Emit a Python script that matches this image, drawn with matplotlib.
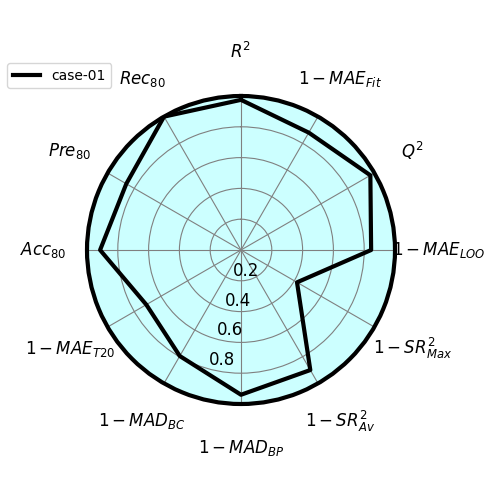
import numpy as np
import matplotlib
matplotlib.use("Agg")
import matplotlib.pyplot as plt

labels = [r"$R^2$", r"$1-MAE_{Fit}$", r"$Q^2$", r"$1-MAE_{LOO}$",
          r"$1-SR^2_{Max}$", r"$1-SR^2_{Av}$", r"$1-MAD_{BP}$",
          r"$1-MAD_{BC}$", r"$1-MAE_{T20}$", r"$Acc_{80}$",
          r"$Pre_{80}$", r"$Rec_{80}$"]
values = [0.975, 0.88, 0.97, 0.845, 0.42, 0.90, 0.94, 0.795, 0.71, 0.915, 0.86, 1.0]
series_name = "case-01"
rticks = [0.2, 0.4, 0.6, 0.8]

n = len(labels)
angles = np.linspace(0, 2 * np.pi, n, endpoint=False)
ang_c = np.concatenate([angles, angles[:1]])
val_c = np.concatenate([values, values[:1]])

fig = plt.figure(figsize=(5, 5), dpi=100)
ax = fig.add_axes([0.174, 0.192, 0.616, 0.616], polar=True)
ax.set_theta_zero_location("N")
ax.set_theta_direction(-1)
ax.set_facecolor("#ccffff")

ax.plot(ang_c, val_c, color="black", linewidth=3, label=series_name)
ax.set_ylim(0, 1)
ax.set_thetagrids(np.degrees(angles), labels, fontsize=12)
ax.tick_params(axis="x", pad=21)
ax.set_rgrids(rticks, [str(t) for t in rticks], fontsize=12)
ax.set_rlabel_position(195)
ax.grid(color="grey", linewidth=0.8)
ax.spines["polar"].set_linewidth(3)

fig.legend(loc="upper left", bbox_to_anchor=(7 / 500, 1 - 63 / 500),
           borderaxespad=0, fontsize=10)

fig.savefig("out.png", dpi=100)
